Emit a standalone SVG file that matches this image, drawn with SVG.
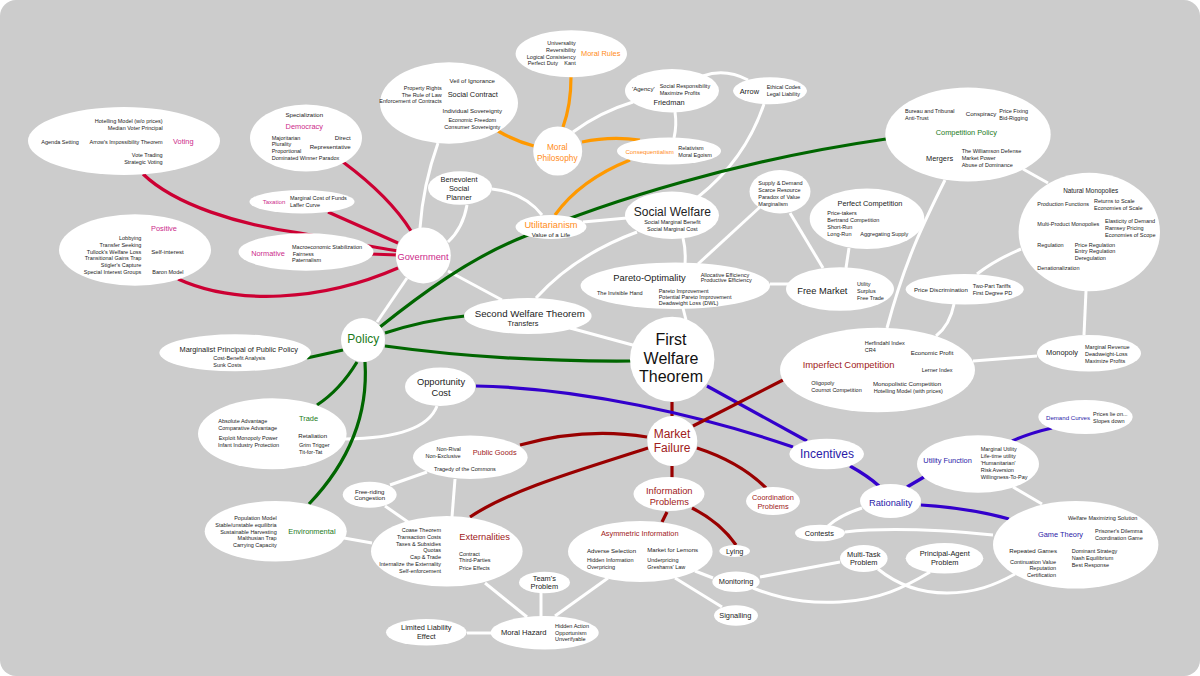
<svg xmlns="http://www.w3.org/2000/svg" width="1200" height="676" viewBox="0 0 1200 676">
<style>
text{font-family:"Liberation Sans",Arial,sans-serif;fill:#222}
.t5{font-size:5.5px}.t6{font-size:6.1px}.t7{font-size:7.4px}.t8{font-size:8.3px}.t9{font-size:9.3px}.t12{font-size:12px}.t15{font-size:16px;fill:#111}
.m{text-anchor:middle}.e{text-anchor:end}
.mag{fill:#cc2a8a}.org{fill:#ff8c1a}.grn{fill:#1a7a1a}.blu{fill:#2a1aa8}.red{fill:#a02020}
ellipse{fill:#fff}
#connectors path{fill:none;stroke-width:3.2}
#connectors path.w{stroke-width:3}
.w{stroke:#fff}.cr{stroke:#cc0033}.cg{stroke:#006600}.co{stroke:#ff9900}.cb{stroke:#3300cc}.cd{stroke:#990000}
</style>
<rect width="1200" height="676" rx="16" fill="#cccccc"/>
<g id="connectors">
<path class="w" d="M438,143Q423,185 420,228"/>
<path class="w" d="M467,205Q463,228 448,242"/>
<path class="w" d="M492,189Q525,193 542,215"/>
<path class="w" d="M448,271L502,300"/>
<path class="w" d="M407,278L377,322"/>
<path class="w" d="M637,232Q575,255 536,298"/>
<path class="w" d="M570,328L640,347"/>
<path class="w" d="M583,222L627,218"/>
<path class="w" d="M633,102Q600,112 573,132"/>
<path class="w" d="M675,112Q677,125 674,138"/>
<path class="w" d="M703,76Q725,68 748,80"/>
<path class="w" d="M764,104Q745,160 698,197"/>
<path class="w" d="M683,238Q686,250 685,264"/>
<path class="w" d="M760,207L698,264"/>
<path class="w" d="M770,284L790,284"/>
<path class="w" d="M790,213L823,268"/>
<path class="w" d="M849,248L846,268"/>
<path class="w" d="M683,308L686,320"/>
<path class="w" d="M945,180C925,220 905,260 887,328"/>
<path class="w" d="M1023,169L1048,183"/>
<path class="w" d="M1021,249Q995,260 977,274"/>
<path class="w" d="M1086,291L1084,335"/>
<path class="w" d="M954,304Q950,325 936,336"/>
<path class="w" d="M973,361L1037,356"/>
<path class="w" d="M437,406Q425,438 345,439"/>
<path class="w" d="M427,472L390,485"/>
<path class="w" d="M455,479L452,517"/>
<path class="w" d="M385,506L408,522"/>
<path class="w" d="M344,538L372,543"/>
<path class="w" d="M485,583L527,617"/>
<path class="w" d="M541,593L541,617"/>
<path class="w" d="M467,633L491,633"/>
<path class="w" d="M555,616L608,578"/>
<path class="w" d="M675,578L722,607"/>
<path class="w" d="M695,571L713,578"/>
<path class="w" d="M760,577L840,562"/>
<path class="w" d="M753,588C790,603 820,603 840,602C880,600 905,587 930,572"/>
<path class="w" d="M878,569C900,587 925,593 947,593C975,593 995,585 1015,574"/>
<path class="w" d="M862,508Q840,515 828,526"/>
<path class="w" d="M845,532Q900,526 993,535"/>
<path class="w" d="M1013,487L1042,504"/>
<path class="cr" d="M143,174C175,205 240,225 300,233C340,240 370,247 398,251"/>
<path class="cr" d="M370,254L398,255"/>
<path class="cr" d="M343,162Q390,197 411,231"/>
<path class="cr" d="M328,212L398,243"/>
<path class="cr" d="M178,279C235,305 320,302 398,268"/>
<path class="co" d="M571,77Q571,105 563,127"/>
<path class="co" d="M498,131Q515,141 534,146"/>
<path class="co" d="M582,142Q610,136 640,140"/>
<path class="co" d="M630,160Q580,180 555,215"/>
<path class="cd" d="M672,402L672,416"/>
<path class="cb" d="M707,386L807,441"/>
<path class="cb" d="M476,386C580,388 700,415 793,447"/>
<path class="cb" d="M850,466Q868,476 879,486"/>
<path class="cb" d="M907,487L924,477"/>
<path class="cb" d="M921,505Q970,508 1009,519"/>
<path class="cb" d="M1012,441Q1030,433 1052,428"/>
<path class="cd" d="M693,426L783,380"/>
<path class="cd" d="M647,437Q585,427 520,445"/>
<path class="cd" d="M648,448C580,470 510,490 470,517"/>
<path class="cd" d="M672,466L672,478"/>
<path class="cd" d="M697,448Q740,462 766,488"/>
<path class="cd" d="M667,512L662,522"/>
<path class="cd" d="M692,508Q720,522 736,545"/>
<path class="cg" d="M380,327C420,295 470,258 523,237C610,200 740,160 886,139"/>
<path class="cg" d="M385,333Q425,320 465,316"/>
<path class="cg" d="M385,346Q500,362 632,361"/>
<path class="cg" d="M307,358L343,350"/>
<path class="cg" d="M357,362Q340,390 317,405"/>
<path class="cg" d="M365,362Q370,440 309,504"/>
</g>

<g id="voting"><ellipse cx="124" cy="141" rx="96" ry="34"/>
<text class="t5 e" x="162.7" y="122.7">Hotelling Model (w/o prices)</text><text class="t5 e" x="162.7" y="130">Median Voter Principal</text>
<text class="t5" x="41.3" y="143.7">Agenda Setting</text><text class="t5 e" x="162.7" y="143.7">Arrow's Impossibility Theorem</text>
<text class="t5 e" x="162.7" y="157">Vote Trading</text><text class="t5 e" x="162.7" y="163.7">Strategic Voting</text>
<text class="t7 mag" x="173" y="144.3">Voting</text></g>

<g id="democracy"><ellipse cx="306" cy="138" rx="56" ry="33.5"/>
<text class="t6 m" x="304.3" y="116.5">Specialization</text><text class="t7 m mag" x="304.3" y="128.5">Democracy</text>
<text class="t5" x="271.7" y="139.7">Majoritarian</text><text class="t5" x="271.7" y="146.3">Plurality</text><text class="t5" x="271.7" y="153">Proportional</text><text class="t5" x="271.7" y="159.7">Dominated Winner Paradox</text>
<text class="t6 e" x="350.7" y="140">Direct</text><text class="t6 e" x="350.7" y="149">Representative</text></g>

<g id="taxation"><ellipse cx="302" cy="201.7" rx="52.5" ry="11.7"/>
<text class="t6 m mag" x="274" y="204.2">Taxation</text><text class="t5" x="290" y="200.3">Marginal Cost of Funds</text><text class="t5" x="290" y="207.3">Laffer Curve</text></g>

<g id="positive"><ellipse cx="135" cy="250" rx="76" ry="35.7"/>
<text class="t7 m mag" x="164" y="230.5">Positive</text>
<text class="t5 e" x="141.3" y="240.3">Lobbying</text><text class="t5 e" x="141.3" y="247">Transfer Seeking</text><text class="t5 e" x="141.3" y="253.7">Tullock's Welfare Loss</text><text class="t5 e" x="141.3" y="260.3">Transitional Gains Trap</text><text class="t5 e" x="141.3" y="267.3">Stigler's Capture</text><text class="t5 e" x="141.3" y="274">Special Interest Groups</text>
<text class="t6" x="151.3" y="253.8">Self-interest</text><text class="t5" x="152.3" y="274">Baron Model</text></g>

<g id="normative"><ellipse cx="306" cy="252" rx="67.5" ry="18.7"/>
<text class="t7 m mag" x="268" y="256.2">Normative</text>
<text class="t5" x="292" y="249">Macroeconomic Stabilization</text><text class="t5" x="292.7" y="255.7">Fairness</text><text class="t5" x="292" y="262.3">Paternalism</text></g>

<g id="government"><ellipse cx="423.3" cy="255.5" rx="27.5" ry="28"/><text class="t9 m mag" x="423" y="260">Government</text></g>

<g id="social-contract"><ellipse cx="449" cy="103" rx="69" ry="40.7"/>
<text class="t6 m" x="472.3" y="83">Veil of Ignorance</text>
<text class="t5 e" x="441.7" y="90">Property Rights</text><text class="t5 e" x="441.7" y="96.7">The Rule of Law</text><text class="t5 e" x="441.7" y="103.3">Enforcement of Contracts</text>
<text class="t7" x="447.7" y="97">Social Contract</text><text class="t6 m" x="472.3" y="113">Individual Sovereignty</text>
<text class="t5 m" x="472.3" y="122">Economic Freedom</text><text class="t5 m" x="472.3" y="129">Consumer Sovereignty</text></g>

<g id="moral-rules"><ellipse cx="571.3" cy="53.8" rx="55.7" ry="23.5"/>
<text class="t7 m org" x="600.7" y="55.5">Moral Rules</text>
<text class="t5 e" x="575.7" y="45">Universality</text><text class="t5 e" x="575.7" y="51.7">Reversibility</text><text class="t5 e" x="575.7" y="58.7">Logical Consistency</text><text class="t5" x="527.7" y="65">Perfect Duty</text><text class="t5 e" x="575.7" y="65">Kant</text></g>

<g id="moral-philosophy"><ellipse cx="557.7" cy="151" rx="24.5" ry="24.5"/>
<text class="t8 m org" x="557.3" y="150">Moral</text><text class="t8 m org" x="557.3" y="161.3">Philosophy</text></g>

<g id="friedman"><ellipse cx="672" cy="90.7" rx="47" ry="21.7"/>
<text class="t6 m" x="643.3" y="91.3">'Agency'</text><text class="t5" x="659.7" y="88">Social Responsibility</text><text class="t5" x="659.7" y="94.7">Maximize Profits</text><text class="t7 m" x="669" y="105.2">Friedman</text></g>

<g id="arrow"><ellipse cx="770" cy="90.8" rx="37" ry="13.5"/>
<text class="t7" x="739.7" y="94.2">Arrow</text><text class="t5" x="766.7" y="89.3">Ethical Codes</text><text class="t5" x="766.7" y="96.3">Legal Liability</text></g>

<g id="consequentialism"><ellipse cx="669" cy="151" rx="52" ry="13.5"/>
<text class="t6 m org" x="649.7" y="153.8">Consequentialism</text><text class="t5" x="678.3" y="149.7">Relativism</text><text class="t5" x="678.3" y="157.3">Moral Egoism</text></g>

<g id="benevolent"><ellipse cx="460" cy="188" rx="32" ry="16.7"/>
<text class="t7 m" x="459" y="182">Benevolent</text><text class="t7 m" x="459" y="191">Social</text><text class="t7 m" x="459" y="200">Planner</text></g>

<g id="utilitarianism"><ellipse cx="551" cy="227" rx="35.5" ry="12"/>
<text class="t9 m org" x="551" y="227.7">Utilitarianism</text><text class="t6 m" x="551" y="236.5">Value of a Life</text></g>

<g id="social-welfare"><ellipse cx="672" cy="215.3" rx="47" ry="23.7"/>
<text class="t12 m" x="672.3" y="216.2">Social Welfare</text><text class="t5 m" x="672.3" y="224">Social Marginal Benefit</text><text class="t5 m" x="672.3" y="231">Social Marginal Cost</text></g>

<g id="pareto"><ellipse cx="675.3" cy="285.8" rx="94.7" ry="23.2"/>
<text class="t9" x="613.3" y="281" style="font-size:9.4px">Pareto-Optimality</text>
<text class="t5" x="700.7" y="276.7">Allocative Efficiency</text><text class="t5" x="700.7" y="282.3">Productive Efficiency</text>
<text class="t5" x="597" y="295.3">The Invisible Hand</text>
<text class="t5" x="658.7" y="293.3">Pareto Improvement</text><text class="t5" x="658.7" y="299.3">Potential Pareto Improvement</text><text class="t5" x="658.7" y="305.3">Deadweight Loss (DWL)</text></g>

<g id="second-welfare"><ellipse cx="527.8" cy="316" rx="63.8" ry="18"/>
<text class="t9 m" x="529.7" y="317" style="font-size:9.7px">Second Welfare Theorem</text><text class="t7 m" x="523" y="326.2">Transfers</text></g>

<g id="supply"><ellipse cx="780" cy="191.7" rx="30.5" ry="21.7"/>
<text class="t5" x="758.3" y="185.3">Supply &amp; Demand</text><text class="t5" x="758.3" y="192">Scarce Resource</text><text class="t5" x="758.3" y="199.3">Paradox of Value</text><text class="t5" x="758.3" y="205.7">Marginalism</text></g>

<g id="perfect-competition"><ellipse cx="867" cy="218.7" rx="57.3" ry="30.3"/>
<text class="t7 m" x="870" y="206">Perfect Competition</text>
<text class="t5" x="827.3" y="215.3">Price-takers</text><text class="t5" x="827.3" y="222.3">Bertrand Competition</text><text class="t5" x="827.3" y="228.7">Short-Run</text><text class="t5" x="827.3" y="235.7">Long-Run</text><text class="t5" x="860.3" y="235.7">Aggregating Supply</text></g>

<g id="free-market"><ellipse cx="840" cy="289" rx="54" ry="21.8"/>
<text class="t9" x="797.3" y="294">Free Market</text><text class="t5" x="857" y="286.3">Utility</text><text class="t5" x="857" y="293">Surplus</text><text class="t5" x="857" y="299.7">Free Trade</text></g>

<g id="competition-policy"><ellipse cx="968" cy="134.5" rx="82.7" ry="47"/>
<text class="t5" x="905" y="113">Bureau and Tribunal</text><text class="t5" x="905" y="120">Anti-Trust</text>
<text class="t6 m" x="981" y="116.2">Conspiracy</text><text class="t5" x="999.3" y="112.7">Price Fixing</text><text class="t5" x="999.3" y="119.7">Bid-Rigging</text>
<text class="t7 m grn" x="966.3" y="135.2">Competition Policy</text>
<text class="t7" x="926" y="160.6">Mergers</text><text class="t5" x="961.7" y="153">The Williamson Defense</text><text class="t5" x="961.7" y="159.7">Market Power</text><text class="t5" x="961.7" y="166.7">Abuse of Dominance</text></g>

<g id="natural-monopolies"><ellipse cx="1089.3" cy="232" rx="70.7" ry="59.3"/>
<text class="t6 m" x="1090.7" y="193" style="font-size:6.4px">Natural Monopolies</text>
<text class="t5" x="1037.3" y="206">Production Functions</text><text class="t5" x="1094" y="202.7">Returns to Scale</text><text class="t5" x="1094" y="209.7">Economies of Scale</text>
<text class="t5" x="1037.3" y="225.7">Multi-Product Monopolies</text><text class="t5" x="1105" y="222.7">Elasticity of Demand</text><text class="t5" x="1105" y="229.7">Ramsey Pricing</text><text class="t5" x="1105" y="236.7">Economies of Scope</text>
<text class="t5" x="1037.3" y="246.7">Regulation</text><text class="t5" x="1074.7" y="246.7">Price Regulation</text><text class="t5" x="1074.7" y="253.3">Entry Regulation</text><text class="t5" x="1074.7" y="260.3">Deregulation</text>
<text class="t5" x="1037.3" y="270.3">Denationalization</text></g>

<g id="price-discrimination"><ellipse cx="964.7" cy="289.3" rx="59" ry="15.3"/>
<text class="t6" x="914" y="291.5">Price Discrimination</text><text class="t5" x="972.7" y="288.3">Two-Part Tariffs</text><text class="t5" x="972.7" y="295">First Degree PD</text></g>

<g id="imperfect-competition"><ellipse cx="877.5" cy="370" rx="97.5" ry="42.3"/>
<text class="t9 red" x="802.7" y="368" style="font-size:9.4px">Imperfect Competition</text>
<text class="t5" x="864.7" y="345">Herfindahl Index</text><text class="t5" x="864.7" y="351.7">CR4</text><text class="t6" x="910.7" y="354.8">Economic Profit</text><text class="t5" x="921.7" y="372">Lerner Index</text>
<text class="t5" x="811.3" y="385.3">Oligopoly</text><text class="t5" x="811.3" y="392">Cournot Competition</text><text class="t6" x="873" y="385.8">Monopolistic Competition</text><text class="t5" x="873.7" y="392.7">Hotelling Model (with prices)</text></g>

<g id="monopoly"><ellipse cx="1089" cy="353.3" rx="52" ry="18.3"/>
<text class="t7" x="1046" y="354.7">Monopoly</text><text class="t5" x="1085" y="349">Marginal Revenue</text><text class="t5" x="1085" y="356.3">Deadweight-Loss</text><text class="t5" x="1085" y="363.3">Maximize Profits</text></g>

<g id="first-welfare"><ellipse cx="672.2" cy="359.2" rx="42.2" ry="42.5"/>
<text class="t15 m" x="671" y="345">First</text><text class="t15 m" x="671" y="363.5">Welfare</text><text class="t15 m" x="671" y="382.3">Theorem</text></g>

<g id="market-failure"><ellipse cx="672.3" cy="441" rx="25" ry="25"/>
<text class="t12 m red" x="672" y="438">Market</text><text class="t12 m red" x="672" y="452">Failure</text></g>

<g id="information-problems"><ellipse cx="669" cy="494" rx="35.5" ry="17"/>
<text class="t9 m red" x="669.3" y="494">Information</text><text class="t9 m red" x="669.3" y="505.3">Problems</text></g>

<g id="coordination"><ellipse cx="773" cy="501" rx="27" ry="14"/>
<text class="t7 m red" x="773" y="499.8">Coordination</text><text class="t7 m red" x="773" y="508.5">Problems</text></g>

<g id="asymmetric"><ellipse cx="640.3" cy="551.5" rx="72.3" ry="30.5"/>
<text class="t7 m red" x="639.7" y="535.5">Asymmetric Information</text>
<text class="t6" x="587" y="552.8">Adverse Selection</text><text class="t5" x="587" y="562">Hidden Information</text><text class="t5" x="587" y="569.3">Overpricing</text>
<text class="t6" x="647.3" y="552.1">Market for Lemons</text><text class="t5" x="647.3" y="562.3">Underpricing</text><text class="t5" x="647.3" y="569.3">Greshams' Law</text></g>

<g id="lying"><ellipse cx="734.7" cy="551" rx="15.3" ry="6"/><text class="t7 m" x="734.7" y="553.8">Lying</text></g>
<g id="monitoring"><ellipse cx="736" cy="581.7" rx="23.7" ry="10.3"/><text class="t7 m" x="736" y="584.2">Monitoring</text></g>
<g id="signalling"><ellipse cx="736" cy="615.5" rx="22" ry="10.2"/><text class="t7 m" x="735.3" y="618.2">Signalling</text></g>
<g id="team-problem"><ellipse cx="544.5" cy="582.5" rx="25.5" ry="10.8"/><text class="t7 m" x="544.3" y="580.5">Team's</text><text class="t7 m" x="544.3" y="589.2">Problem</text></g>

<g id="moral-hazard"><ellipse cx="544.7" cy="632.7" rx="54" ry="16.7"/>
<text class="t7" x="501" y="634.8" style="font-size:7.6px">Moral Hazard</text><text class="t5" x="555" y="627.7">Hidden Action</text><text class="t5" x="555" y="634.7">Opportunism</text><text class="t5" x="555" y="641.3">Unverifyable</text></g>

<g id="limited-liability"><ellipse cx="426.3" cy="632.3" rx="40.3" ry="13.3"/>
<text class="t7 m" x="426.3" y="630.2">Limited Liability</text><text class="t7 m" x="426.3" y="638.8">Effect</text></g>

<g id="externalities"><ellipse cx="446.8" cy="551.3" rx="75.8" ry="35.3"/>
<text class="t9 red" x="459.3" y="540">Externalities</text>
<text class="t5 e" x="441" y="532">Coase Theorem</text><text class="t5 e" x="441" y="539">Transaction Costs</text><text class="t5 e" x="441" y="545.7">Taxes &amp; Subsidies</text><text class="t5 e" x="441" y="552.3">Quotas</text><text class="t5 e" x="441" y="559">Cap &amp; Trade</text><text class="t5 e" x="441" y="566">Internalize the Externality</text><text class="t5 e" x="441" y="572.7">Self-enforcement</text>
<text class="t5" x="459" y="555.7">Contract</text><text class="t5" x="459" y="562.3">Third-Parties</text><text class="t5" x="459" y="570">Price Effects</text></g>

<g id="free-riding"><ellipse cx="369.7" cy="494.7" rx="27" ry="13"/>
<text class="t6 m" x="369.7" y="493.8">Free-riding</text><text class="t6 m" x="369.7" y="500.4">Congestion</text></g>

<g id="public-goods"><ellipse cx="470.3" cy="457.3" rx="57.3" ry="21.7"/>
<text class="t7 red" x="472.7" y="454.9">Public Goods</text><text class="t5 e" x="460.7" y="451">Non-Rival</text><text class="t5 e" x="460.7" y="458">Non-Exclusive</text><text class="t5" x="434" y="471.3">Tragedy of the Commons</text></g>

<g id="opportunity-cost"><ellipse cx="440.2" cy="386.7" rx="35.2" ry="19.3"/>
<text class="t9 m" x="441" y="385">Opportunity</text><text class="t9 m" x="441" y="396.3">Cost</text></g>

<g id="policy"><ellipse cx="363" cy="340" rx="22" ry="22"/><text class="t12 m grn" x="363.3" y="343.4">Policy</text></g>

<g id="marginalist"><ellipse cx="235.2" cy="352.8" rx="75.8" ry="18.5"/>
<text class="t7 m" x="238.7" y="352.3">Marginalist Principal of Public Policy</text><text class="t5" x="213.3" y="360.3">Cost-Benefit Analysis</text><text class="t5" x="213.3" y="367">Sunk Costs</text></g>

<g id="trade"><ellipse cx="272.3" cy="433.8" rx="74.3" ry="35.5"/>
<text class="t7 grn" x="299" y="420.8">Trade</text>
<text class="t5" x="218.3" y="423.3">Absolute Advantage</text><text class="t5" x="218.3" y="430">Comparative Advantage</text><text class="t5" x="218.7" y="440">Exploit Monopoly Power</text><text class="t5" x="218" y="446.7">Infant Industry Protection</text>
<text class="t6" x="298.3" y="437.5">Retaliation</text><text class="t5" x="299" y="447.3">Grim Trigger</text><text class="t5" x="299" y="454">Tit-for-Tat</text></g>

<g id="environmental"><ellipse cx="275.7" cy="531.3" rx="71" ry="30.3"/>
<text class="t7 grn" x="288.3" y="534">Environmental</text>
<text class="t5 e" x="276.7" y="520.3">Population Model</text><text class="t5 e" x="276.7" y="527.3">Stable/unstable equilibria</text><text class="t5 e" x="276.7" y="533.7">Sustainable Harvesting</text><text class="t5 e" x="276.7" y="540.3">Malthusian Trap</text><text class="t5 e" x="276.7" y="547">Carrying Capacity</text></g>

<g id="incentives"><ellipse cx="826.7" cy="454" rx="37.3" ry="15.3"/><text class="t12 m blu" x="827" y="458.2">Incentives</text></g>
<g id="rationality"><ellipse cx="890.5" cy="501" rx="30.5" ry="17"/><text class="t9 m blu" x="890.7" y="505.6">Rationality</text></g>

<g id="utility-function"><ellipse cx="978" cy="464" rx="61" ry="28.7"/>
<text class="t7 blu" x="923.3" y="462.5">Utility Function</text>
<text class="t5" x="980.7" y="450.7">Marginal Utility</text><text class="t5" x="980.7" y="458">Life-time utility</text><text class="t5" x="980.7" y="465">'Humanitarian'</text><text class="t5" x="980.7" y="472">Risk Aversion</text><text class="t5" x="980.7" y="479">Willingness-To-Pay</text></g>

<g id="demand-curves"><ellipse cx="1085.5" cy="417" rx="47.2" ry="17"/>
<text class="t6 blu" x="1046" y="419.6">Demand Curves</text><text class="t5" x="1093" y="415.7">Prices lie on...</text><text class="t5" x="1093" y="422.7">Slopes down</text></g>

<g id="game-theory"><ellipse cx="1075.7" cy="544.8" rx="82.7" ry="43.8"/>
<text class="t7 blu" x="1038" y="536.8">Game Theory</text>
<text class="t5" x="1068" y="520">Welfare Maximizing Solution</text><text class="t5" x="1095" y="533">Prisoner's Dilemma</text><text class="t5" x="1095" y="540.3">Coordination Game</text>
<text class="t6" x="1009.3" y="553">Repeated Games</text><text class="t5" x="1071.7" y="553.3">Dominant Strategy</text><text class="t5" x="1071.7" y="560">Nash Equilibrium</text><text class="t5" x="1071.7" y="566.7">Best Response</text>
<text class="t5 e" x="1056" y="563.7">Continuation Value</text><text class="t5 e" x="1056" y="570.3">Reputation</text><text class="t5 e" x="1056" y="577">Certification</text></g>

<g id="contests"><ellipse cx="820" cy="533" rx="25" ry="8.3"/><text class="t7 m" x="819.3" y="535.5">Contests</text></g>
<g id="multi-task"><ellipse cx="863.8" cy="558.5" rx="23.8" ry="13.5"/><text class="t7 m" x="863.7" y="556.5">Multi-Task</text><text class="t7 m" x="863.7" y="565.2">Problem</text></g>
<g id="principal-agent"><ellipse cx="944.5" cy="558.3" rx="38.8" ry="15.3"/><text class="t7 m" x="944.7" y="556.2">Principal-Agent</text><text class="t7 m" x="944.7" y="564.5">Problem</text></g>
</svg>
